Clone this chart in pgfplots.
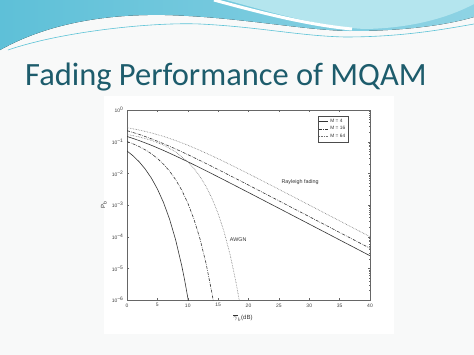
\documentclass[border=0pt]{standalone}
\usepackage{fontspec}
\setmainfont{Liberation Sans}
\newfontfamily\titlefont{Carlito}
\usepackage{pgfplots}
\pgfplotsset{compat=1.18}
\definecolor{slidebg}{HTML}{F8F9F9}
\definecolor{cyanA}{HTML}{5EC0D8}
\definecolor{cyanB}{HTML}{8ED3E4}
\definecolor{cyanC}{HTML}{B4E5EE}
\definecolor{cyanLine}{HTML}{5CC3D6}
\definecolor{titlecol}{HTML}{1D5C6C}
\begin{document}
\begin{tikzpicture}
\path[use as bounding box] (0,0) rectangle (474bp,-355bp);
\fill[slidebg] (0,0) rectangle (474bp,-355bp);
% banner
\fill[left color=cyanA, right color=cyanB] (0,0) -- (0,-50bp) .. controls (50bp,-22bp) and (110bp,-14bp) .. (165bp,-15bp) .. controls (240bp,-17bp) and (300bp,-30bp) .. (350bp,-31bp) .. controls (410bp,-31bp) and (450bp,-24bp) .. (474bp,-17bp) -- (474bp,0) -- cycle;
\fill[cyanC] (226bp,0) .. controls (270bp,-12bp) and (320bp,-27bp) .. (365bp,-29bp) .. controls (420bp,-28bp) and (455bp,-14bp) .. (474bp,-4bp) -- (474bp,0) -- cycle;
\draw[white, line width=3bp] (214bp,0) .. controls (258bp,-12bp) and (308bp,-25bp) .. (352bp,-29bp);
\draw[cyanLine, line width=0.6bp] (8bp,-50bp) .. controls (60bp,-32bp) and (150bp,-22bp) .. (200bp,-24bp) .. controls (260bp,-27bp) and (300bp,-36bp) .. (345bp,-37bp) .. controls (400bp,-37bp) and (440bp,-30bp) .. (474bp,-24bp);
% title
\node[anchor=base west, inner sep=0pt, text=titlecol, font=\titlefont\fontsize{32.6}{38}\selectfont] at (25bp,-85bp) {Fading Performance of MQAM};
% chart background
\fill[white] (104bp,-96bp) rectangle (394bp,-334bp);
\begin{axis}[
  scale only axis, width=243bp, height=190bp,
  at={(127bp,-300bp)}, anchor=south west,
  xmin=0, xmax=40, ymode=log, ymin=1e-6, ymax=1,
  xtick={0,5,...,40},
  ytick={1e-6,1e-5,1e-4,1e-3,1e-2,1e-1,1},
  yticklabels={10\textsuperscript{−6},10\textsuperscript{−5},10\textsuperscript{−4},10\textsuperscript{−3},10\textsuperscript{−2},10\textsuperscript{−1},10\textsuperscript{0}},
  /pgf/number format/assume math mode=true,
  tick label style={font=\fontsize{5}{6}\selectfont, text=black!75},
  axis line style={black!60, line width=0.4pt},
  tick style={black!60, line width=0.3pt},
  major tick length=2bp, minor tick length=1.2bp,
  xlabel={$\overline{\gamma}_{b}$(dB)},
  xlabel style={font=\fontsize{6}{7}\selectfont, text=black!80, at={(axis description cs:0.477,-0.095)}, anchor=center},
  ylabel={P\textsubscript{b}},
  ylabel style={font=\fontsize{6}{7}\selectfont, text=black!80, at={(axis description cs:-0.095,0.5)}, anchor=center, rotate=0},
  legend style={at={(rel axis cs:0.91,0.968)}, anchor=north east, font=\fontsize{4.8}{5.5}\selectfont, draw=black!70, line width=0.3pt, inner sep=0.8pt, row sep=-1.2pt, text=black!80},
  legend cell align=left,
  legend image code/.code={\draw[#1] plot coordinates {(0bp,0bp) (9bp,0bp)};},
  every axis plot/.append style={line width=0.6pt},
]
% Rayleigh fading
\addplot[black!80, solid] coordinates {(0,0.14645) (2,0.10849) (4,0.07713) (6,0.0530) (8,0.03546) (10,0.02327) (12,0.015065) (14,0.009665) (16,0.006164) (18,0.003916) (20,0.002481) (25,0.0007887) (30,0.00024981) (35,7.904e-5) (40,2.5e-5)};
\addlegendentry{M = 4}
\addplot[black!80, dash pattern=on 3pt off 1.2pt on 0.6pt off 1.2pt] coordinates {(0,0.22275) (2,0.16966) (4,0.12369) (6,0.08675) (8,0.05895) (10,0.03913) (12,0.02554) (14,0.016467) (16,0.010537) (18,0.006709) (20,0.0042575) (25,0.0013555) (30,0.00042957) (35,0.00013598) (40,4.30e-5)};
\addlegendentry{M = 16}
\addplot[black!55, dash pattern=on 0.6pt off 1pt] coordinates {(0,0.27639) (2,0.23364) (4,0.18946) (6,0.14687) (8,0.10884) (10,0.07742) (12,0.05321) (14,0.03561) (16,0.02337) (18,0.015135) (20,0.00971) (22,0.0061925) (25,0.0031323) (30,0.000997) (35,0.00031594) (40,0.0001)};
\addlegendentry{M = 64}
% AWGN
\addplot[black!80, solid, forget plot] coordinates {(0,0.05096) (1,0.0357) (2,0.02315) (3,0.01364) (4,0.00715) (5,0.003226) (6,0.001212) (7,0.000361) (8,8.01e-5) (9,1.24e-5) (9.5,4.13e-6) (10,1.21e-6) (10.5,3.07e-7)};
\addplot[black!80, dash pattern=on 3pt off 1.2pt on 0.6pt off 1.2pt, forget plot] coordinates {(0,0.1006) (1,0.0853) (2,0.0701) (3,0.0554) (4,0.04174) (5,0.02965) (6,0.01956) (7,0.0118) (8,0.006352) (9,0.00297) (10,0.001165) (11,0.000366) (12,8.73e-5) (13,1.47e-5) (14,1.60e-6) (14.5,4.33e-7)};
\addplot[black!55, dash pattern=on 0.6pt off 1pt, forget plot] coordinates {(0,0.169) (2,0.1415) (4,0.1108) (6,0.0785) (8,0.0479) (10,0.02329) (11,0.0144) (12,0.008005) (13,0.003895) (14,0.001606) (15,0.000537) (16,0.0001388) (17,2.58e-5) (18,3.17e-6) (18.5,9.2e-7) (19,2.33e-7)};
\node[font=\fontsize{5.4}{6}\selectfont, text=black!80] at (axis cs:28.5,5.25e-3) {Rayleigh fading};
\node[font=\fontsize{5.4}{6}\selectfont, text=black!80] at (axis cs:18.3,7.9e-5) {AWGN};
\end{axis}
\end{tikzpicture}
\end{document}
